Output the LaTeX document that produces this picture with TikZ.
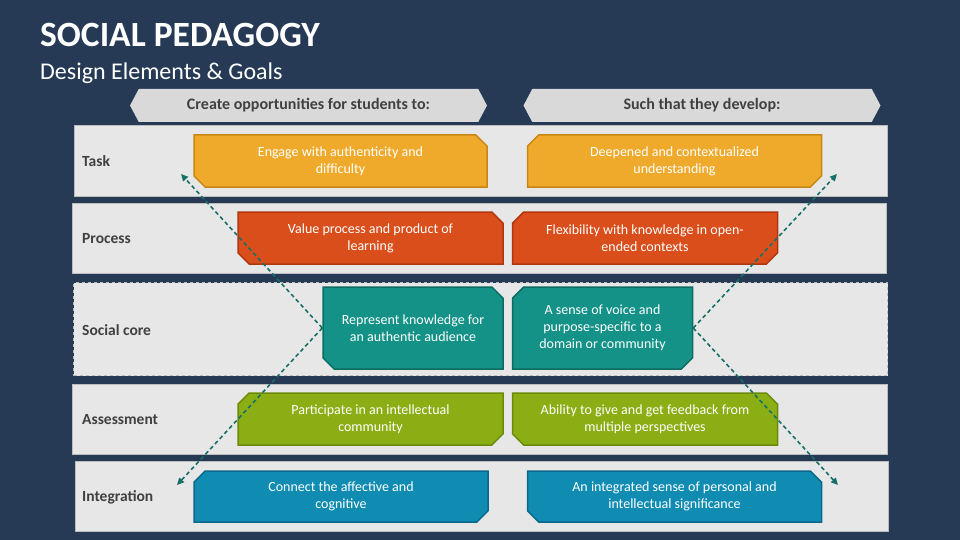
\documentclass[tikz,border=0pt]{standalone}
\usepackage{fontspec}
\setmainfont{Carlito}
\usetikzlibrary{shapes.misc,shapes.symbols,arrows.meta,positioning}
\definecolor{bgnavy}{RGB}{38,58,85}
\definecolor{bandgray}{RGB}{231,231,231}
\definecolor{bandline}{RGB}{188,188,188}
\definecolor{headgray}{RGB}{217,217,217}
\definecolor{labelgray}{RGB}{64,64,64}
\definecolor{taskfill}{RGB}{239,170,44}
\definecolor{taskline}{RGB}{200,135,20}
\definecolor{procfill}{RGB}{218,78,28}
\definecolor{procline}{RGB}{175,55,15}
\definecolor{socfill}{RGB}{20,146,136}
\definecolor{socline}{RGB}{12,108,98}
\definecolor{assfill}{RGB}{138,174,19}
\definecolor{assline}{RGB}{108,138,10}
\definecolor{intfill}{RGB}{16,140,179}
\definecolor{intline}{RGB}{10,104,140}
\definecolor{arrowteal}{RGB}{22,112,104}
\tikzset{
	band/.style={draw=bandline, fill=bandgray, line width=1pt, anchor=north west, inner sep=0pt},
	rowlabel/.style={anchor=west, inner sep=0pt, font=\fontsize{15.5}{18}\selectfont\bfseries, text=labelgray},
	header/.style={signal, signal to=west and east, signal pointer angle=124, fill=headgray, inner sep=0pt,
		minimum width=357pt, minimum height=33pt, font=\fontsize{16}{18}\selectfont\bfseries, text=labelgray},
	goal/.style={chamfered rectangle, chamfered rectangle xsep=8pt, fill=#1fill, draw=#1line, line width=1.5pt,
		text=white, align=center, inner sep=0pt, font=\fontsize{14}{17}\selectfont},
	cutA/.style={chamfered rectangle corners={north east,south west}},
	cutB/.style={chamfered rectangle corners={north west,south east}},
	flow/.style={draw=arrowteal, line width=1.6pt, dash pattern=on 4pt off 3pt, -{Triangle[length=7pt,width=6.5pt]}},
}
\begin{document}
\begin{tikzpicture}[x=1pt,y=-1pt]
	\fill [bgnavy] (0,0) rectangle (960,540);
	\node[anchor=base west, inner sep=0pt, text=white, font=\fontsize{35.5}{40}\selectfont\bfseries] (title) at (40,47) {SOCIAL PEDAGOGY};
	\node[anchor=base west, inner sep=0pt, text=white, font=\fontsize{24}{26}\selectfont] (subtitle) at (40,80) {Design Elements \& Goals};
	% column headers
	\node[header] (hleft) at (308.5,105.5) {Create opportunities for students to:};
	\node[header] (hright) at (702,105.5) {Such that they develop:};
	% row bands
	\node[band, minimum width=813pt, minimum height=71pt] (taskband) at (74,125) {};
	\node[band, minimum width=814pt, minimum height=70pt] (procband) at (72,203) {};
	\node[band, dashed, minimum width=814pt, minimum height=93pt] (socband) at (73,282) {};
	\node[band, minimum width=815pt, minimum height=70pt] (assband) at (72,384) {};
	\node[band, minimum width=813pt, minimum height=70pt] (intband) at (75,461) {};
	\node[rowlabel] (tasklbl) at (82,161) {Task};
	\node[rowlabel] (proclbl) at (82,239) {Process};
	\node[rowlabel] (soclbl) at (82,330) {Social core};
	\node[rowlabel] (asslbl) at (82,420) {Assessment};
	\node[rowlabel] (intlbl) at (82,497) {Integration};
	% goal boxes
	\node[goal=task, cutA, minimum width=293pt, minimum height=52pt] (taskL) at (340.5,161) {Engage with authenticity and\\difficulty};
	\node[goal=task, cutB, minimum width=294pt, minimum height=52pt, right=39pt of taskL] (taskR) {Deepened and contextualized\\understanding};
	\node[goal=proc, cutA, minimum width=265pt, minimum height=52pt] (procL) at (370.5,238) {Value process and product of\\learning};
	\node[goal=proc, cutB, minimum width=265pt, minimum height=52pt, right=8pt of procL] (procR) {Flexibility with knowledge in open-\\ended contexts};
	\node[goal=soc, cutA, minimum width=180pt, minimum height=82pt] (socL) at (413,328) {Represent knowledge for\\an authentic audience};
	\node[goal=soc, cutB, minimum width=180pt, minimum height=82pt, right=8pt of socL] (socR) {A sense of voice and\\purpose-specific to a\\domain or community};
	\node[goal=ass, cutB, minimum width=265pt, minimum height=52pt] (assL) at (370.5,419) {Participate in an intellectual\\community};
	\node[goal=ass, cutA, minimum width=265pt, minimum height=52pt, right=8pt of assL] (assR) {Ability to give and get feedback from\\multiple perspectives};
	\node[goal=int, cutB, minimum width=294pt, minimum height=51pt] (intL) at (341,496.5) {Connect the affective and\\cognitive};
	\node[goal=int, cutA, minimum width=294pt, minimum height=51pt, right=38pt of intL] (intR) {An integrated sense of personal and\\intellectual significance};
	% dashed X
	\coordinate (tl) at (181,174);
	\coordinate (bl) at (177,485);
	\coordinate (tr) at (837,174);
	\coordinate (br) at (838,485);
	\draw [flow] (socL.west) -- (tl);
	\draw [flow] (socL.west) -- (bl);
	\draw [flow] (socR.east) -- (tr);
	\draw [flow] (socR.east) -- (br);
\end{tikzpicture}
\end{document}
